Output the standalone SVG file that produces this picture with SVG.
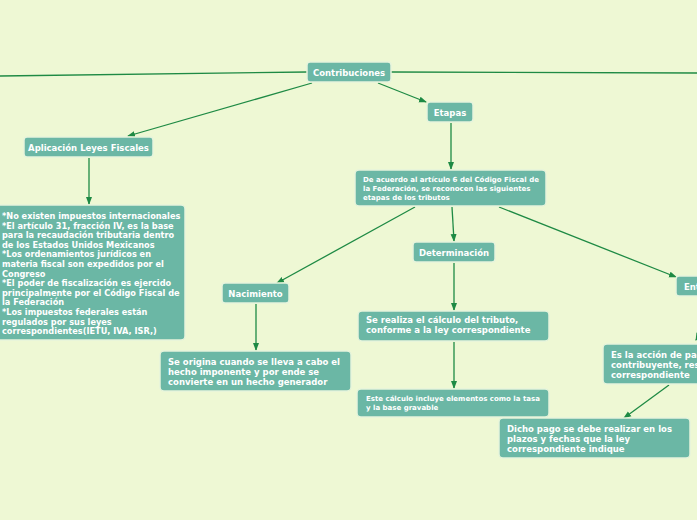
<svg xmlns="http://www.w3.org/2000/svg" width="697" height="520" viewBox="0 0 697 520">
<defs>
<style>
.b{fill:#6bb7a5;stroke:#e6f4dc;stroke-width:1.5}
.t{font-family:"DejaVu Sans",Verdana,sans-serif;font-weight:bold;fill:#fff;font-size:8.5px}
.s{font-size:7px}
.m{font-size:8.2px}
.c{stroke:#1e8a44;stroke-width:1.3;fill:none}
</style>
<marker id="a" markerWidth="8" markerHeight="8" refX="7" refY="4" orient="auto" markerUnits="userSpaceOnUse"><path d="M0,1 L8,4 L0,7z" fill="#1e8a44"/></marker>
</defs>
<rect width="697" height="520" fill="#eef8d4"/>
<g id="connectors">
<path class="c" d="M307,72 L0,76"/>
<path class="c" d="M391,72 L697,73"/>
<path class="c" d="M312,83 L128,136" marker-end="url(#a)"/>
<path class="c" d="M378,83 L426,102" marker-end="url(#a)"/>
<path class="c" d="M89,158 L89,204" marker-end="url(#a)"/>
<path class="c" d="M451,123 L451,169" marker-end="url(#a)"/>
<path class="c" d="M415,207 L277,283" marker-end="url(#a)"/>
<path class="c" d="M452,207 L454,241" marker-end="url(#a)"/>
<path class="c" d="M499,207 L676,277" marker-end="url(#a)"/>
<path class="c" d="M256,304 L256,350" marker-end="url(#a)"/>
<path class="c" d="M454,263 L454,310" marker-end="url(#a)"/>
<path class="c" d="M454,342 L454,388" marker-end="url(#a)"/>
<path class="c" d="M697,338 L696,340" marker-end="url(#a)"/>
<path class="c" d="M669,385 L624,418" marker-end="url(#a)"/>
</g>
<g id="n1"><rect class="b" x="307" y="62" width="84" height="20" rx="3"/><text class="t" x="349" y="75.5" text-anchor="middle">Contribuciones</text></g>
<g id="n2"><rect class="b" x="24" y="137" width="129" height="20" rx="3"/><text class="t" x="88.5" y="150.5" text-anchor="middle">Aplicación Leyes Fiscales</text></g>
<g id="n3"><rect class="b" x="427" y="102" width="46" height="20" rx="3"/><text class="t" x="450" y="115.5" text-anchor="middle">Etapas</text></g>
<g id="n4"><rect class="b" x="-5" y="205" width="190" height="135" rx="4"/>
<text class="t m" x="2" y="219">*No existen impuestos internacionales<tspan x="2" dy="9.6">*El artículo 31, fracción IV, es la base</tspan><tspan x="2" dy="9.6">para la recaudación tributaria dentro</tspan><tspan x="2" dy="9.6">de los Estados Unidos Mexicanos</tspan><tspan x="2" dy="9.6">*Los ordenamientos jurídicos en</tspan><tspan x="2" dy="9.6">materia fiscal son expedidos por el</tspan><tspan x="2" dy="9.6">Congreso</tspan><tspan x="2" dy="9.6">*El poder de fiscalización es ejercido</tspan><tspan x="2" dy="9.6">principalmente por el Código Fiscal de</tspan><tspan x="2" dy="9.6">la Federación</tspan><tspan x="2" dy="9.6">*Los impuestos federales están</tspan><tspan x="2" dy="9.6">regulados por sus leyes</tspan><tspan x="2" dy="9.6">correspondientes(IETU, IVA, ISR,)</tspan></text></g>
<g id="n5"><rect class="b" x="355" y="170" width="191" height="36" rx="4"/>
<text class="t s" x="363" y="182">De acuerdo al artículo 6 del Código Fiscal de<tspan x="363" dy="9">la Federación, se reconocen las siguientes</tspan><tspan x="363" dy="9">etapas de los tributos</tspan></text></g>
<g id="n6"><rect class="b" x="413" y="242" width="82" height="20" rx="3"/><text class="t" x="454" y="255.5" text-anchor="middle">Determinación</text></g>
<g id="n7"><rect class="b" x="222" y="283" width="67" height="20" rx="3"/><text class="t" x="255.5" y="296.5" text-anchor="middle">Nacimiento</text></g>
<g id="n8"><rect class="b" x="676" y="276" width="40" height="20" rx="3"/><text class="t" x="684" y="289.5">Entero</text></g>
<g id="n9"><rect class="b" x="358" y="311" width="191" height="30" rx="4"/>
<text class="t" x="366" y="323">Se realiza el cálculo del tributo,<tspan x="366" dy="10">conforme a la ley correspondiente</tspan></text></g>
<g id="n10"><rect class="b" x="160" y="351" width="191" height="40" rx="4"/>
<text class="t" x="168" y="365">Se origina cuando se lleva a cabo el<tspan x="168" dy="10">hecho imponente y por ende se</tspan><tspan x="168" dy="10">convierte en un hecho generador</tspan></text></g>
<g id="n11"><rect class="b" x="603" y="344" width="110" height="40" rx="4"/>
<text class="t" x="611" y="358">Es la acción de pago del<tspan x="611" dy="10">contribuyente, respecto a la ley</tspan><tspan x="611" dy="10">correspondiente</tspan></text></g>
<g id="n12"><rect class="b" x="357" y="389" width="192" height="28" rx="4"/>
<text class="t s" x="366" y="401">Este cálculo incluye elementos como la tasa<tspan x="366" dy="9">y la base gravable</tspan></text></g>
<g id="n13"><rect class="b" x="499" y="418" width="191" height="40" rx="4"/>
<text class="t" x="507" y="432">Dicho pago se debe realizar en los<tspan x="507" dy="10">plazos y fechas que la ley</tspan><tspan x="507" dy="10">correspondiente indique</tspan></text></g>
</svg>
